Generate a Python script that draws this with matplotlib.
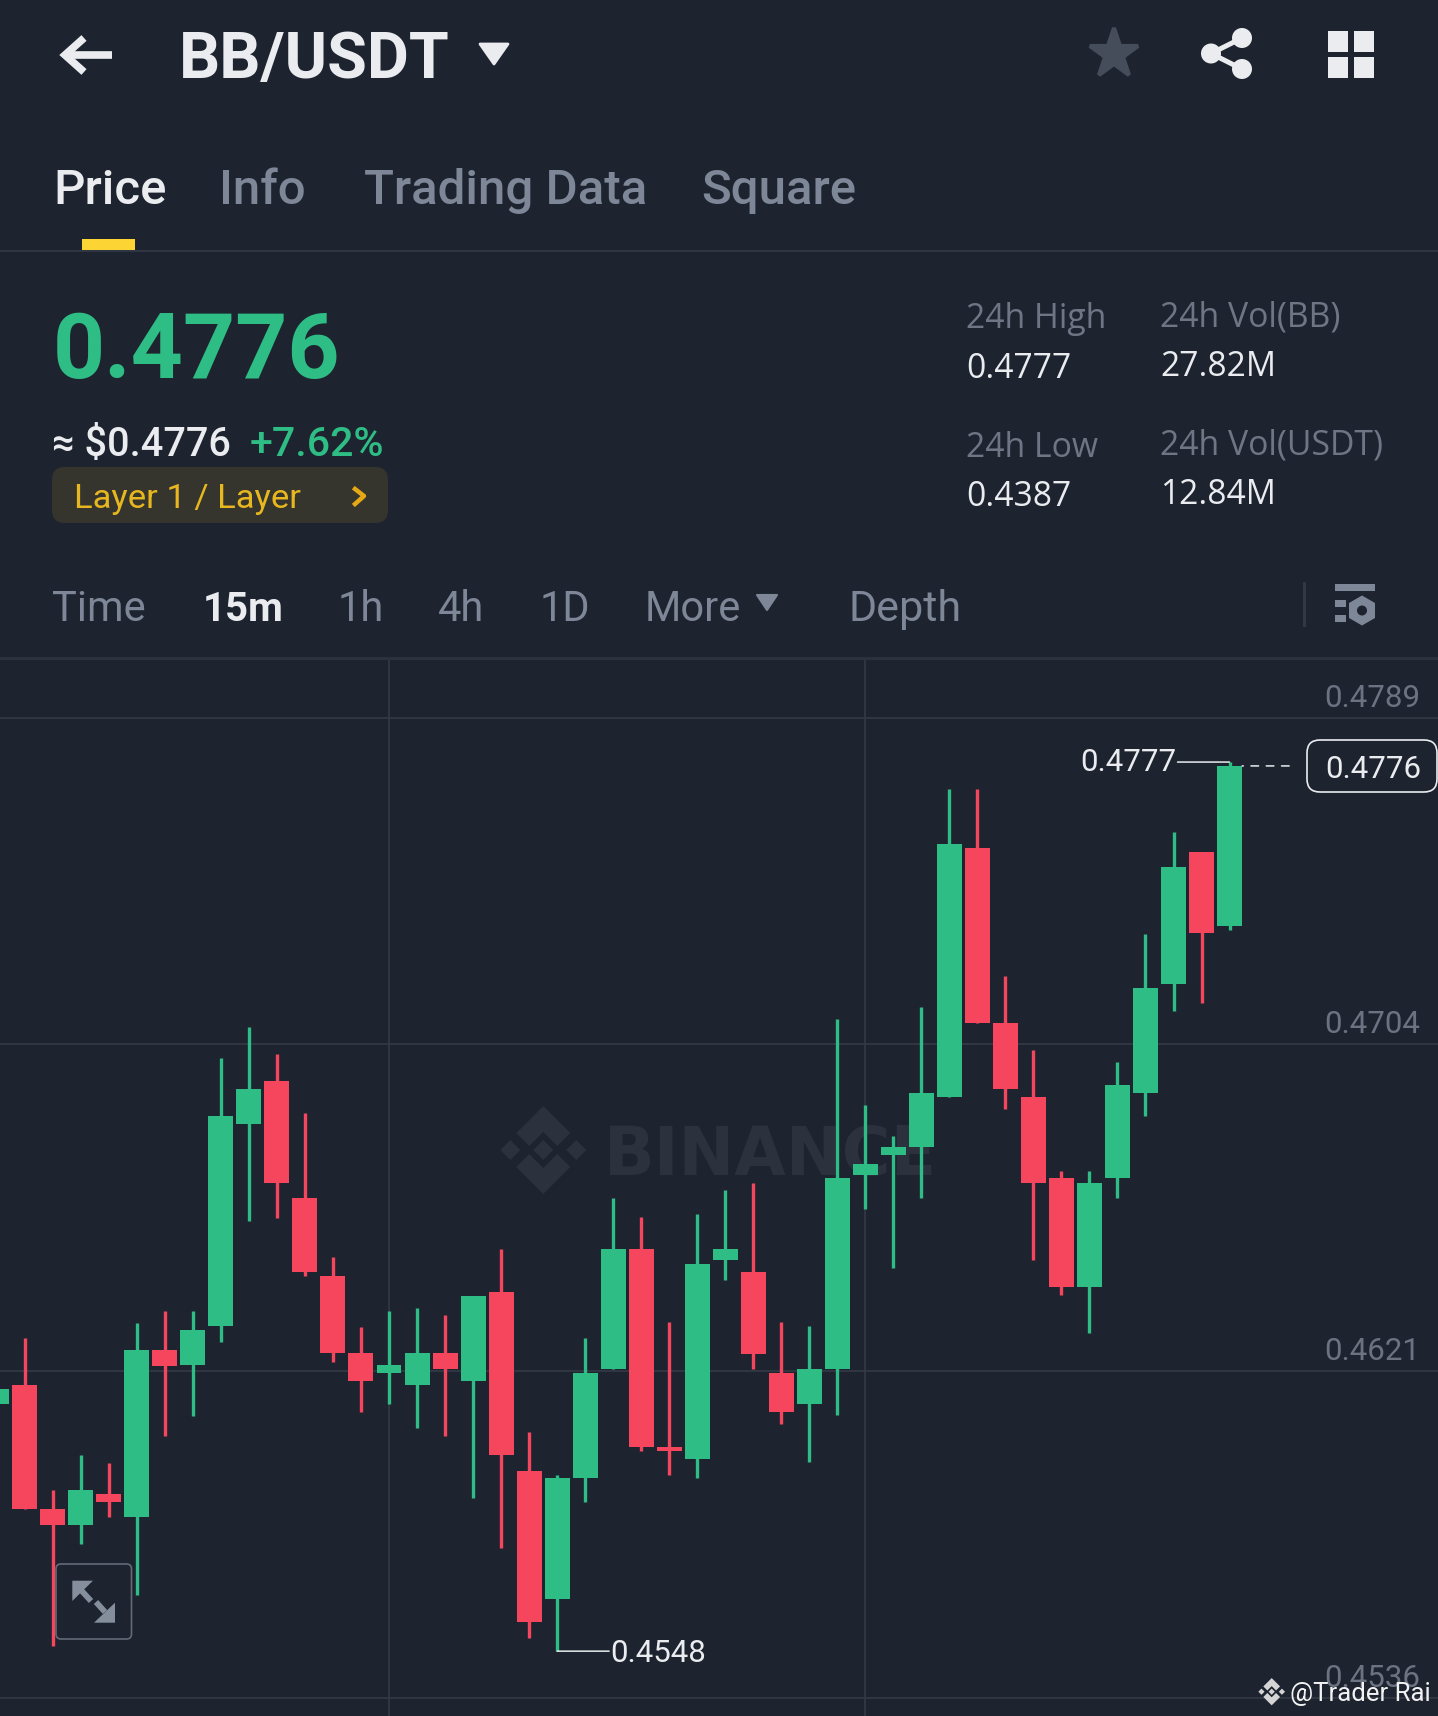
import matplotlib
matplotlib.use("Agg")
import matplotlib.pyplot as plt
from matplotlib.patches import FancyBboxPatch, Polygon, Circle, Rectangle, RegularPolygon

# 15m candles, oldest first
opens = [.46116, .46166, .45846, .45805, .45885, .45825, .46256, .46216, .46317, .46838,
         .46948, .46647, .46447, .46247, .46196, .46166, .46247, .46176, .46406, .45945,
         .45615, .45926, .46207, .46517, .46007, .45975, .46487, .46456, .46196, .46116,
         .46207, .46707, .46758, .46778, .46908, .47549, .47099, .46908, .46698, .46417,
         .46698, .46918, .47199, .47539, .47349]
highs = [.46155, .46286, .45895, .45985, .45965, .46326, .46356, .46356, .47007, .47088,
         .47018, .46867, .46496, .46315, .46356, .46365, .46346, .46396, .46517, .46044,
         .45935, .46286, .46647, .46597, .46327, .46606, .46667, .46687, .46327, .46317,
         .47107, .46887, .46807, .47138, .47700, .47700, .47219, .47028, .46717, .46717,
         .46997, .47328, .47589, .47539, .4777]
lows = [.46116, .45846, .45494, .45756, .45825, .45624, .46035, .46085, .46277, .46587,
        .46596, .46446, .46225, .46096, .46116, .46055, .46035, .45875, .45745, .45515,
        .4548, .45865, .46207, .45995, .45935, .45926, .46437, .46207, .46065, .45966,
        .46087, .46618, .46467, .46648, .46908, .47099, .46877, .46487, .46398, .46299,
        .46648, .46858, .47129, .47149, .47338]
closes = [.46155, .45846, .45805, .45895, .45865, .46256, .46215, .46306, .46858, .46928,
          .46687, .46457, .46247, .46176, .46216, .46247, .46206, .46396, .45985, .45554,
          .45926, .46196, .46517, .46006, .45995, .46477, .46517, .46246, .46096, .46207,
          .46698, .46736, .46778, .46918, .47559, .47099, .46928, .46687, .46417, .46687,
          .46937, .47188, .47499, .47329, .4776]

tick_prices = [.47884, .47044, .46201, .45359]
tick_labels = ["0.4789", "0.4704", "0.4621", "0.4536"]
grid_candles = [14, 31]
last_price = .4776
high_price = .4777
low_price = .4548
high_candle = 44
low_candle = 20

tabs = ["Price", "Info", "Trading Data", "Square"]
intervals = ["Time", "15m", "1h", "4h", "1D", "More", "Depth"]
stats = [("24h High", "0.4777"), ("24h Vol(BB)", "27.82M"),
         ("24h Low", "0.4387"), ("24h Vol(USDT)", "12.84M")]

W, H = 1438, 1716
BG = "#1E242F"
GREEN = "#2EBD85"
RED = "#F6465D"
WHITE = "#EAECEF"
GREY = "#7E8797"
LINE = "#323844"

fig = plt.figure(figsize=(W / 100, H / 100), dpi=100, facecolor=BG)


def pixel_axes(zorder):
    a = fig.add_axes([0, 0, 1, 1], zorder=zorder)
    a.set_xlim(0, W)
    a.set_ylim(H, 0)
    a.axis("off")
    return a


ax_back = pixel_axes(0)
ax_ui = pixel_axes(2)

# price chart, one unit on x is one candle
chart_top = 658
ax = fig.add_axes([0, 0, 1, (H - chart_top) / H], zorder=1)
ax.patch.set_alpha(0)
ax.set_xlim(0.116, 51.44)
ax.set_ylim(.45313, .48038)
for s in ax.spines.values():
    s.set_visible(False)
ax.set_xticks([])
ax.set_yticks([])

for p in tick_prices:
    ax.axhline(p, color=LINE, lw=1.3, zorder=1)
for c in grid_candles:
    ax.axvline(c, color=LINE, lw=1.3, zorder=1)

xs = list(range(len(opens)))
colors = [GREEN if c >= o else RED for o, c in zip(opens, closes)]
bottoms = [min(o, c) for o, c in zip(opens, closes)]
heights = [abs(c - o) for o, c in zip(opens, closes)]
ax.vlines(xs, lows, highs, colors=colors, lw=2.4, zorder=3)
ax.bar(xs, heights, bottom=bottoms, width=0.892, color=colors, zorder=4)


def ui_text(x, y, s, size, color=WHITE, weight="normal", family="Roboto", ha="left", a=None):
    return (a or ax_ui).text(x, y, s, fontsize=size, color=color, fontweight=weight,
                             family=family, ha=ha, va="baseline")


# axis labels sit just above their grid lines
for p, t in zip(tick_prices, tick_labels):
    ax.annotate(t, (1, p), xycoords=("axes fraction", "data"), xytext=(-18, 11),
                textcoords="offset pixels", ha="right", va="baseline", fontsize=22.5,
                color="#6B7382", family="Roboto", zorder=2)

# high / low callouts
ax.annotate("", xy=(high_candle, high_price), xytext=(-52, 0), textcoords="offset pixels",
            arrowprops=dict(arrowstyle="-", color=WHITE, lw=1.1, shrinkA=0, shrinkB=0), zorder=5)
ax.annotate(f"{high_price:.4f}", (high_candle, high_price), xytext=(-53, -9),
            textcoords="offset pixels", ha="right", va="baseline", fontsize=22.5,
            color=WHITE, family="Roboto", zorder=5)
ax.annotate("", xy=(low_candle, low_price), xytext=(52, 0), textcoords="offset pixels",
            arrowprops=dict(arrowstyle="-", color=WHITE, lw=1.1, shrinkA=0, shrinkB=0), zorder=5)
ax.annotate(f"{low_price:.4f}", (low_candle, low_price), xytext=(53, -11),
            textcoords="offset pixels", ha="left", va="baseline", fontsize=22.5,
            color=WHITE, family="Roboto", zorder=5)

# last price dashed line and box
ax.annotate("", xy=(high_candle + 0.45, last_price), xytext=(47, 0), textcoords="offset pixels",
            arrowprops=dict(arrowstyle="-", color=WHITE, lw=1.1, ls=(0, (5, 5)), shrinkA=0, shrinkB=0),
            zorder=5)
ax.add_patch(FancyBboxPatch((1307, 740), 130, 52, boxstyle="round,pad=0,rounding_size=13",
                            fc=BG, ec=WHITE, lw=1.2, transform=ax_ui.transData, zorder=6,
                            clip_on=False))
ax.annotate(f"{last_price:.4f}", (1, last_price), xycoords=("axes fraction", "data"),
            xytext=(-17, -12), textcoords="offset pixels", ha="right", va="baseline",
            fontsize=22.5, color=WHITE, family="Roboto", zorder=7)


def logo(a, cx, cy, k, color):
    # exchange mark built from four-sided pieces
    def piece(pts):
        a.add_patch(Polygon([(cx + k * u, cy + k * v) for u, v in pts], fc=color, ec="none"))
    piece([(-10, 0), (0, -10), (10, 0), (0, 10)])
    piece([(-43, 0), (-33, -10), (-23, 0), (-33, 10)])
    piece([(43, 0), (33, -10), (23, 0), (33, 10)])
    for sgn in (-1, 1):
        piece([(0, sgn * 44), (27, sgn * 17), (14, sgn * 4), (0, sgn * 18),
               (-14, sgn * 4), (-27, sgn * 17)])


# faint watermark behind the candles
logo(ax_back, 543.3, 1150, 1.0, "#2C323D")
ui_text(604, 1175, "BINANCE", 48, "#2C323D", "bold", "DejaVu Sans", a=ax_back)

# top bar
ax_ui.plot([67, 112], [55, 55], color=WHITE, lw=5.5, solid_capstyle="butt")
ax_ui.plot([84, 65, 84], [38, 55, 72], color=WHITE, lw=5.5, solid_joinstyle="miter", solid_capstyle="butt")
ui_text(179, 78, "BB/USDT", 46.5, WHITE, "bold")
ax_ui.add_patch(Polygon([(480, 44), (508, 44), (494, 64)], fc=WHITE, ec=WHITE, lw=2, joinstyle="round"))
ax_ui.plot([1114], [54], marker="*", ms=37, color="#454D5B", mec="#454D5B", mew=3, mfc="#454D5B")
ax_ui.plot([1242, 1211, 1242], [38, 53.5, 69], color=WHITE, lw=3.6)
for cx, cy in [(1242, 38), (1211, 53.5), (1242, 69)]:
    ax_ui.add_patch(Circle((cx, cy), 10, fc=WHITE, ec="none"))
for x0 in (1328, 1354):
    for y0 in (31, 57):
        ax_ui.add_patch(Rectangle((x0, y0), 20, 20.5, fc=WHITE, ec="none"))

# tabs
tab_x = [53, 219, 364, 701]
for i, (x, t) in enumerate(zip(tab_x, tabs)):
    ui_text(x, 204, t, 35.5, WHITE if i == 0 else GREY, "medium")
ax_ui.add_patch(Rectangle((82, 239), 53, 11, fc="#FCD535", ec="none"))
ax_ui.plot([0, W], [251, 251], color=LINE, lw=1.3)

# price block
ui_text(53, 378, "0.4776", 65.5, GREEN, "bold")
ui_text(52, 456, "≈ $0.4776", 28.5, WHITE, "medium")
ui_text(250, 456, "+7.62%", 29.5, GREEN, "medium")
ax_ui.add_patch(FancyBboxPatch((52, 467), 336, 56, boxstyle="round,pad=0,rounding_size=13",
                               fc="#35352D", ec="none"))
ui_text(74, 508, "Layer 1 / Layer", 24.8, "#E8B71F")
ax_ui.plot([355, 364, 355], [489, 496, 504], color="#E6A817", lw=3.2)

# 24h stats
stat_x = [966, 1160, 966, 1160]
stat_y = [(328, 378), (326, 376), (457, 506), (454, 504)]
for (name, val), x, (y1, y2) in zip(stats, stat_x, stat_y):
    ui_text(x, y1, name, 24.3, "#6E7686", family="Open Sans")
    ui_text(x, y2, val, 24.2, WHITE, family="Open Sans")

# interval row
int_x = [52, 203, 338, 438, 540, 645, 849]
for x, t in zip(int_x, intervals):
    if t == "15m":
        ui_text(x, 621, t, 29, WHITE, "bold")
    elif t == "Depth":
        ui_text(x, 621, t, 31, GREY)
    else:
        ui_text(x, 621, t, 30, GREY)
ax_ui.add_patch(Polygon([(757, 595), (777, 595), (767, 610)], fc=GREY, ec=GREY, lw=1.5, joinstyle="round"))
ax_ui.plot([1304, 1304], [583, 625], color=LINE, lw=2.2)
ax_ui.add_patch(Rectangle((1335, 584), 40, 6.5, fc=GREY, ec="none"))
ax_ui.add_patch(Rectangle((1335, 599.5), 11, 7, fc=GREY, ec="none"))
ax_ui.add_patch(Rectangle((1335, 614.5), 11, 7, fc=GREY, ec="none"))
ax_ui.add_patch(RegularPolygon((1362, 610.5), 6, radius=15, fc=GREY, ec="none"))
ax_ui.add_patch(Circle((1362, 610.5), 5, fc=BG, ec="none"))
ax_ui.plot([0, W], [658, 658], color="#2C323C", lw=2.2)

# expand button over the chart
ax_ui.add_patch(FancyBboxPatch((56, 1564), 75.5, 75, boxstyle="round,pad=0,rounding_size=5",
                               fc=BG, ec="#626A78", lw=1.2))
ax_ui.add_patch(Polygon([(72.3, 1580.7), (93, 1580.7), (72.3, 1601)], fc="#848E9C", ec="none"))
ax_ui.add_patch(Polygon([(115, 1622.7), (115, 1602.7), (94, 1622.7)], fc="#848E9C", ec="none"))
ax_ui.plot([80, 91], [1589, 1601], color="#848E9C", lw=4.2, solid_capstyle="butt")
ax_ui.plot([105, 96], [1612, 1602], color="#848E9C", lw=4.2, solid_capstyle="butt")

# credit tag in the corner
logo(ax_ui, 1271.7, 1691.7, 0.31, "#D4D4D4")
ui_text(1290, 1701, "@Trader Rai", 18.5, "#F2F2F2")

fig.savefig("out.png", dpi=100, facecolor=BG)
